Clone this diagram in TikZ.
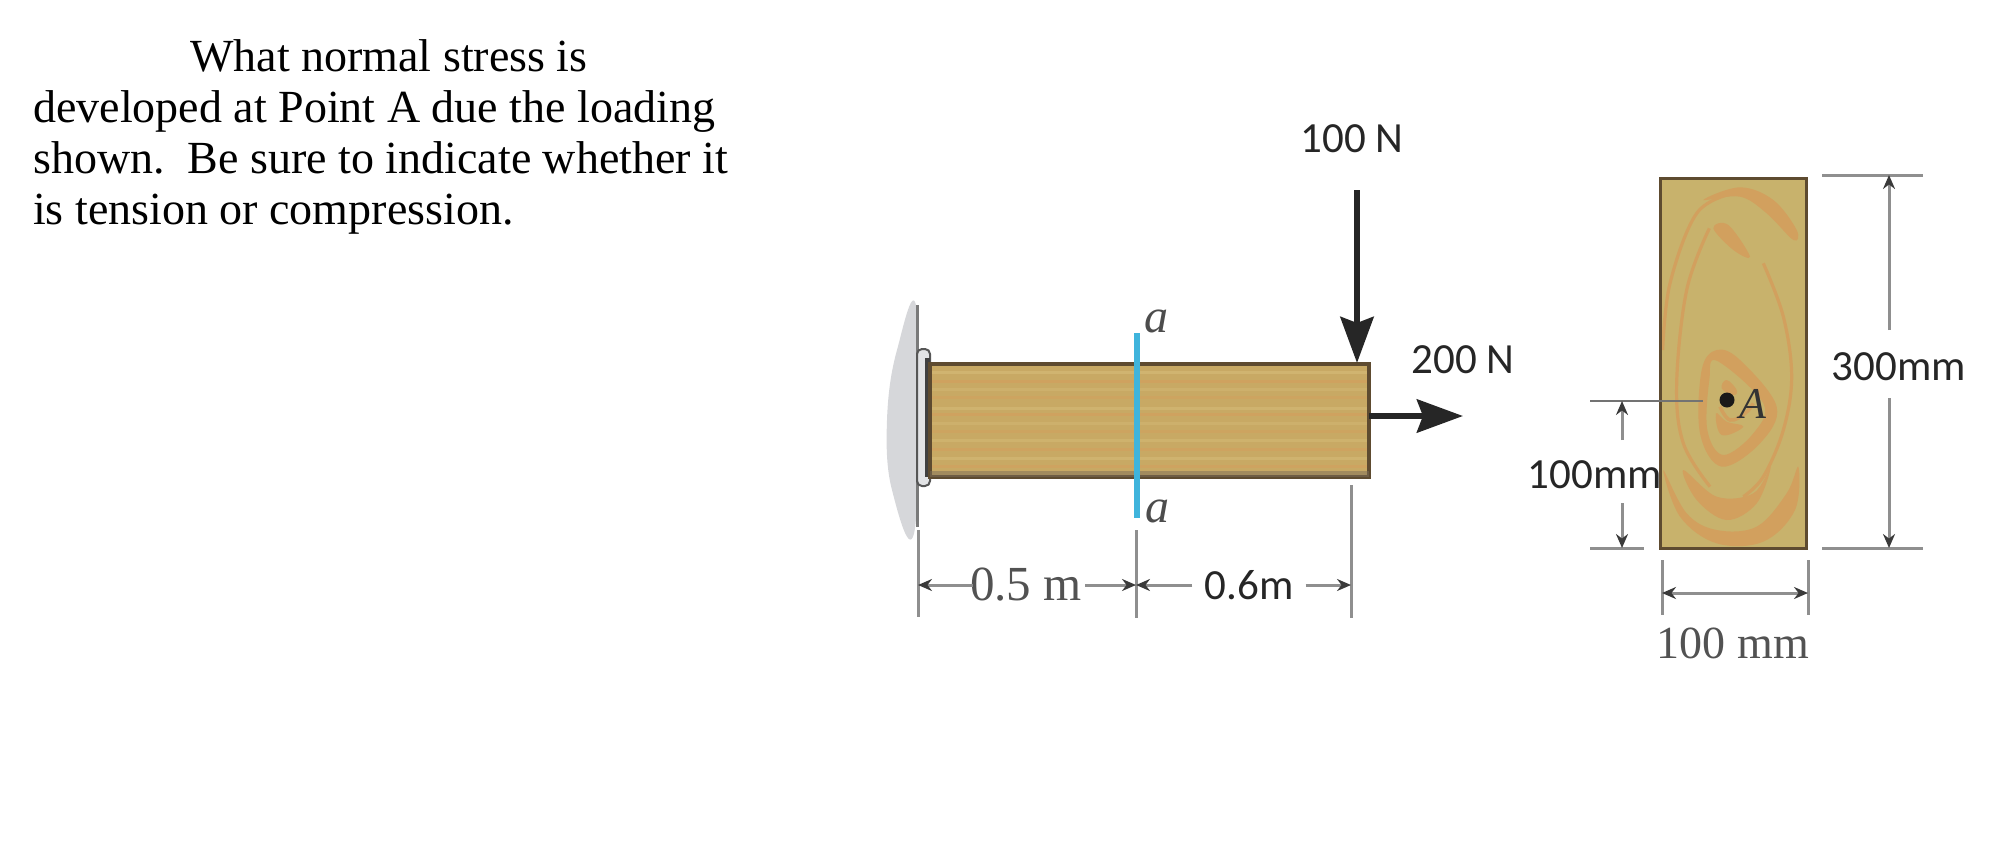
\documentclass[tikz,border=0pt]{standalone}
\usepackage{fontspec}
\setmainfont{Liberation Serif}
\newfontfamily\calibrilike{Carlito}
\usetikzlibrary{arrows.meta}
\definecolor{woodbase}{HTML}{C8A964}
\definecolor{woodlight}{HTML}{D1B672}
\definecolor{woodring}{HTML}{D2A05E}
\definecolor{secbase}{HTML}{C8B26C}
\definecolor{woodedge}{HTML}{5E4B30}
\definecolor{dimgray}{HTML}{8F8F8F}
\definecolor{dimdark}{HTML}{3A3A3A}
\definecolor{cutblue}{HTML}{3FB4DC}
\definecolor{wallgray}{HTML}{D6D7DA}
\tikzset{
  x=1pt,y=-1pt,
  dimline/.style={draw=dimgray,line width=3pt},
  dimarrow/.style={draw=dimgray,line width=3pt,{Stealth[length=14pt,width=12pt,color=dimdark]}-{Stealth[length=14pt,width=12pt,color=dimdark]}},
  dimend/.style={draw=dimgray,line width=3pt,-{Stealth[length=14pt,width=12pt,color=dimdark]}},
  force/.style={draw=black!85,line width=6.5pt,-{Stealth[length=46pt,width=33pt,inset=6pt]}},
  eqlabel/.style={inner sep=0pt,font=\fontsize{43}{43}\selectfont\calibrilike,text=black!85},
  bookdim/.style={inner sep=0pt,font=\fontsize{46}{46}\selectfont,text=black!68},
  italab/.style={inner sep=0pt,font=\fontsize{48}{48}\selectfont\itshape,text=black!70},
  ring/.style={fill=woodring,draw=none},
  ringline/.style={draw=woodring,line width=3.2pt,fill=none},
}
\begin{document}
\begin{tikzpicture}
\useasboundingbox (0,0) rectangle (2010,844);
% question
\node[anchor=base west,inner sep=0pt,align=left,font=\fontsize{46}{51}\selectfont] (question) at (33,224)
 {\hspace*{157pt}What normal stress is\\developed at Point A due the loading\\shown.\ \ Be sure to indicate whether it\\is tension or compression.};
% wall
\fill[wallgray] plot[smooth cycle,tension=.7] coordinates {(917,312) (897,350) (887,420) (892,490) (915,528)};
\draw[dimgray!85!black,line width=3pt] (917,305) -- (917,527);
\draw[fill=wallgray!70,draw=dimgray!60!black,line width=2pt,rounded corners=5pt] (917,349) rectangle (930,486);
\fill[black!75] (925,358) rectangle (930,477);
% beam
\node[draw=woodedge,line width=3.5pt,fill=woodbase,minimum width=439pt,minimum height=113pt,inner sep=0pt,outer sep=0pt] (beam) at (1149.5,420.5) {};
\begin{scope}
\clip (beam.south west) rectangle (beam.north east);
\foreach \yy/\cc/\oo in {372/woodlight/.9,381/woodring/.7,389/woodlight/.6,397/woodring/.55,408/woodlight/.8,414/woodring/.7,423/woodlight/.6,431/woodring/.55,440/woodlight/.7,449/woodring/.6,458/woodlight/.8,466/woodring/.6}
  \draw[\cc,opacity=\oo,line width=3pt] (932,\yy) -- (1367,\yy);
\fill[woodedge!80,opacity=.5] (930,471) rectangle (1369,477);
\end{scope}
\coordinate (cutT) at (1137,333);
\coordinate (cutB) at (1137,518);
\draw[cutblue,line width=5.5pt] (cutT) -- (cutB);
\node[italab] (a1) at (1156,321) {a};
\node[italab] (a2) at (1157,511) {a};
% forces
\coordinate (F1s) at (1357,190);
\coordinate (F1e) at (1357,363);
\draw[force] (F1s) -- (F1e);
\coordinate (F2s) at (1369,416);
\coordinate (F2e) at (1463,416);
\draw[force] (F2s) -- (F2e);
\node[eqlabel] (n100) at (1352,139) {100 N};
\node[eqlabel] (n200) at (1463,360) {200 N};
% beam dimensions
\coordinate (d1t) at (918,530); \coordinate (d1b) at (918,617);
\coordinate (d2t) at (1136,530); \coordinate (d2b) at (1136,618);
\coordinate (d3t) at (1351,485); \coordinate (d3b) at (1351,618);
\draw[dimline] (d1t) -- (d1b);
\draw[dimline] (d2t) -- (d2b);
\draw[dimline] (d3t) -- (d3b);
\node[bookdim,font=\fontsize{49}{49}\selectfont] (l05) at (1026,585) {0.5 m};
\node[eqlabel] (l06) at (1249,585) {0.6m};
\draw[dimend] (l05.west) ++(3,0) -- (d1t |- l05);
\draw[dimend] (l05.east) ++(3,0) -- (d2t |- l05);
\draw[dimend] (l06.west) ++(-12,0) -- (d2t |- l06);
\draw[dimend] (l06.east) ++(12,0) -- (d3t |- l06);
% section
\node[draw=woodedge,line width=3pt,fill=secbase,minimum width=146pt,minimum height=370pt,inner sep=0pt,outer sep=0pt] (sec) at (1733,363) {};
\begin{scope}[shift={(1500,150)},x=1pt/3,y=-1pt/3]
\clip (482,88) rectangle (915,1193);
\fill[ring] plot[smooth cycle,tension=.6] coordinates {(610,150) (720,112) (820,150) (890,240) (880,270) (800,190) (720,140)};
\fill[ring] plot[smooth cycle,tension=.6] coordinates {(640,235) (685,225) (750,320) (700,300)};
\draw[ringline] plot[smooth,tension=.6] coordinates {(700,130) (590,190) (510,400) (488,600)};
\draw[ringline] plot[smooth,tension=.6] coordinates {(628,235) (560,420) (530,700) (550,880) (630,1010)};
\draw[ringline] plot[smooth,tension=.6] coordinates {(790,340) (850,500) (875,680) (850,840) (790,980) (730,1040)};
\fill[ring] plot[smooth cycle,tension=.6] coordinates {(550,960) (650,1040) (760,1030) (812,950) (770,1060) (680,1110) (590,1050)};
\fill[ring] plot[smooth cycle,tension=.6] coordinates {(490,960) (540,1100) (650,1180) (790,1175) (885,1080) (895,950) (860,1030) (770,1130) (650,1140) (560,1090)};
\fill[ring,even odd rule]
 plot[smooth cycle,tension=.6] coordinates {(650,600) (720,630) (830,770) (780,880) (665,950) (600,850) (605,660)}
 plot[smooth cycle,tension=.6] coordinates {(650,632) (790,760) (760,850) (670,915) (622,840) (628,690)};
\fill[ring] plot[smooth cycle,tension=.7] coordinates {(680,690) (710,720) (700,735) (665,715)};
\fill[ring] plot[smooth cycle,tension=.7] coordinates {(648,790) (680,815) (730,830) (665,855)};
\draw[ringline,line width=3.5pt] plot[smooth,tension=.7] coordinates {(660,770) (690,810) (735,790) (760,760)};
\end{scope}
\draw[woodedge,line width=3pt] (sec.south west) rectangle (sec.north east);
\node[circle,fill=black!90,minimum size=15pt,inner sep=0pt] (ptA) at (1727,400) {};
\node[inner sep=0pt,font=\fontsize{44}{44}\selectfont\itshape,text=black!80] (lA) at (1753,404) {A};
% section dimensions
\coordinate (r1a) at (1822,175); \coordinate (r1b) at (1923,175);
\coordinate (r2a) at (1822,548); \coordinate (r2b) at (1923,548);
\draw[dimline] (r1a) -- (r1b);
\draw[dimline] (r2a) -- (r2b);
\node[eqlabel] (l300) at (1899,367) {300mm};
\coordinate (r3a) at (1889,330); \coordinate (r3b) at (1889,175);
\coordinate (r4a) at (1889,398); \coordinate (r4b) at (1889,548);
\draw[dimend] (r3a) -- (r3b);
\draw[dimend] (r4a) -- (r4b);
\coordinate (l1a) at (1590,401); \coordinate (l1b) at (1703,401);
\coordinate (l2a) at (1590,548); \coordinate (l2b) at (1644,548);
\draw[dimline,draw=black!55,line width=2.2pt] (l1a) -- (l1b);
\draw[dimline] (l2a) -- (l2b);
\coordinate (l3a) at (1622,440); \coordinate (l3b) at (1622,401);
\coordinate (l4a) at (1622,503); \coordinate (l4b) at (1622,548);
\draw[dimend] (l3a) -- (l3b);
\draw[dimend] (l4a) -- (l4b);
\node[eqlabel] (l100a) at (1595,475) {100mm};
\coordinate (b1a) at (1662,560); \coordinate (b1b) at (1662,615);
\coordinate (b2a) at (1808,560); \coordinate (b2b) at (1808,615);
\draw[dimline] (b1a) -- (b1b);
\draw[dimline] (b2a) -- (b2b);
\coordinate (b3a) at (1662,593); \coordinate (b3b) at (1808,593);
\draw[dimarrow] (b3a) -- (b3b);
\node[bookdim] (l100b) at (1733,643) {100 mm};
\end{tikzpicture}
\end{document}
